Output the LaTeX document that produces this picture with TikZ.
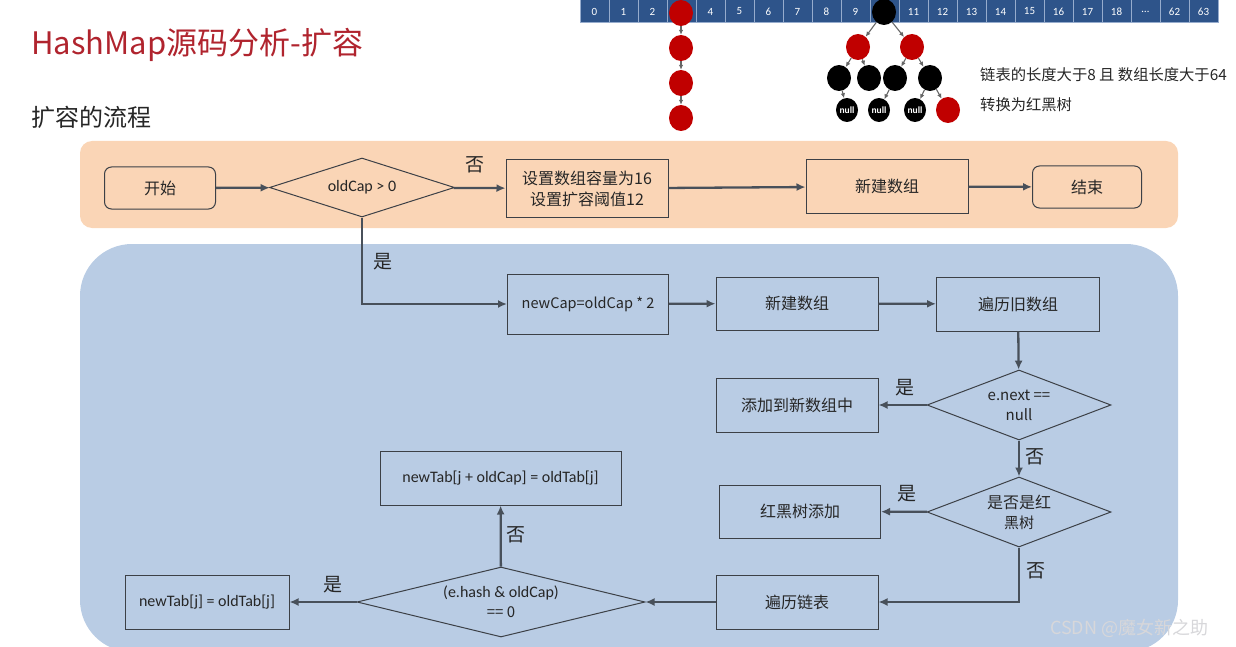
\documentclass[tikz,border=0pt]{standalone}
\usepackage{fontspec}
\setmainfont{Noto Sans CJK SC}
\newfontfamily\lat{Carlito}
\usepackage{tikz}
\usetikzlibrary{shapes.geometric}
\usetikzlibrary{arrows.meta}
\definecolor{bandO}{RGB}{250,213,182}
\definecolor{bandB}{RGB}{185,204,228}
\definecolor{cellB}{RGB}{46,84,138}
\definecolor{cellL}{RGB}{150,172,205}
\definecolor{nodeR}{RGB}{192,0,0}
\definecolor{titleR}{RGB}{176,36,46}
\definecolor{lineG}{RGB}{72,80,90}
\definecolor{edgeG}{RGB}{60,64,70}
\definecolor{txtG}{RGB}{38,38,38}
\definecolor{markG}{RGB}{215,215,218}
\tikzset{
	box/.style={draw=edgeG, line width=1pt, minimum width=162pt, minimum height=54pt, inner sep=2pt, align=center, text=txtG, font=\fontsize{16}{21}\selectfont},
	rbox/.style={box, rounded corners=7pt},
	dia/.style={diamond, draw=edgeG, line width=1pt, inner sep=0pt, align=center, text=txtG, font=\fontsize{15}{20}\selectfont},
	arr/.style={draw=lineG, line width=2.3pt, -{Latex[length=9pt,width=8pt]}},
	lbl/.style={inner sep=0pt, text=txtG, font=\fontsize{19}{19}\selectfont},
	cell/.style={draw=cellL, line width=1pt, fill=cellB, text=white, minimum width=29pt, minimum height=23pt, inner sep=0pt, font=\lat\fontsize{11}{11}\selectfont},
	rn/.style={ellipse, fill=nodeR, minimum width=24pt, minimum height=26pt, inner sep=0pt},
	bn/.style={ellipse, fill=black, minimum width=24pt, minimum height=26pt, inner sep=0pt},
	nn/.style={bn, minimum width=22pt, minimum height=24pt, text=white, font=\lat\bfseries\fontsize{9.5}{9.5}\selectfont},
	tarr/.style={draw=black!60, line width=1.1pt, -{Latex[length=5pt,width=4.5pt]}},
}
\begin{document}
\begin{tikzpicture}[x=1pt,y=-1pt]
\useasboundingbox (0,0) rectangle (1236,647);
% bands
\fill[bandO, rounded corners=12pt] (80,141) rectangle (1178,228);
\fill[bandB, rounded corners=52pt] (80,244) rectangle (1178,652);
% titles
\node[anchor=west, inner sep=0pt, text=titleR, font=\fontsize{31}{32}\selectfont] (title) at (31,45) {HashMap源码分析-扩容};
\node[anchor=west, inner sep=0pt, text=txtG, font=\fontsize{24}{24}\selectfont] (sub) at (31,117) {扩容的流程};
% array
\foreach \t [count=\i from 0] in {0,1,2,{},4,5,6,7,8,9,{},11,12,13,14,15,16,17,18,\ldots,62,63}
	\node[cell] (a\i) at ({594.5+29*\i},11.5) {\t};
% list on slot 3
\node[rn] (c0) at (681,13) {};
\node[rn] (c1) at (681,48) {};
\node[rn] (c2) at (681,83) {};
\node[rn] (c3) at (681,118) {};
\draw[tarr] (c0) -- (c1);
\draw[tarr] (c1) -- (c2);
\draw[tarr] (c2) -- (c3);
% tree on slot 10
\node[bn] (root) at (884,12) {};
\node[rn] (r1) at (858,47) {};
\node[rn] (r2) at (912,47) {};
\node[bn] (b1) at (839,78) {};
\node[bn] (b2) at (869,78) {};
\node[bn] (b3) at (895,78) {};
\node[bn] (b4) at (930,78) {};
\node[nn] (n1) at (847,110) {null};
\node[nn] (n2) at (879,110) {null};
\node[nn] (n3) at (915,110) {null};
\node[rn] (r3) at (948,110) {};
\draw[tarr] (root) -- (r1);
\draw[tarr] (root) -- (r2);
\draw[tarr] (r1) -- (b1);
\draw[tarr] (r1) -- (b2);
\draw[tarr] (r2) -- (b3);
\draw[tarr] (r2) -- (b4);
\draw[tarr] (b1) -- (n1);
\draw[tarr] (b3) -- (n2);
\draw[tarr] (b4) -- (n3);
\draw[tarr] (b4) -- (r3);
\node[anchor=west, inner sep=0pt, text=txtG, font=\fontsize{15.3}{15}\selectfont] (note1) at (980,75) {链表的长度大于8 且 数组长度大于64};
\node[anchor=west, inner sep=0pt, text=txtG, font=\fontsize{15.3}{15}\selectfont] (note2) at (980,105) {转换为红黑树};
% top row
\node[rbox, minimum width=111pt, minimum height=42pt] (start) at (160,188) {开始};
\node[dia, aspect=3.1, minimum width=185pt, minimum height=59pt] (cond) at (362,187.5) {\lat\fontsize{16}{16}\selectfont oldCap > 0};
\node[box, minimum height=57pt] (init) at (587,188.5) {设置数组容量为16\\设置扩容阈值12};
\node[box, minimum height=53pt] (newT) at (887,186.5) {新建数组};
\node[rbox, minimum width=109pt, minimum height=42pt] (stop) at (1087,187) {结束};
% blue part
\node[box, minimum width=161pt, minimum height=60pt, font=\fontsize{14.5}{18}\selectfont] (dbl) at (588,304) {newCap=oldCap * 2};
\node[box, minimum height=53pt] (newB) at (797,303.5) {新建数组};
\node[box, minimum width=163pt] (trav) at (1018,304) {遍历旧数组};
\node[dia, aspect=2.6, minimum width=184pt, minimum height=70pt] (nxt) at (1019,405) {e.next ==\\null};
\node[box] (addN) at (797,405) {添加到新数组中};
\node[dia, aspect=2.6, minimum width=184pt, minimum height=70pt] (isT) at (1019,512) {\fontsize{16}{20}\selectfont 是否是红\\黑树};
\node[box, minimum width=161pt, minimum height=53pt] (rbt) at (800,511.5) {红黑树添加};
\node[box] (lst) at (797,602) {遍历链表};
\node[dia, aspect=4.1, minimum width=288pt, minimum height=70pt] (hsh) at (501,602) {\lat\fontsize{16}{19}\selectfont (e.hash \& oldCap)\\== 0};
\node[box, minimum width=164pt] (lo) at (207,602) {\lat newTab[j] = oldTab[j]};
\node[box, minimum width=241pt] (hi) at (500.5,478) {\lat newTab[j + oldCap] = oldTab[j]};
% connectors
\draw[arr] (start) -- (cond);
\draw[arr] (cond) -- (init);
\draw[arr] (init) -- (newT);
\draw[arr] (newT) -- (stop);
\draw[arr] (cond.south) |- (dbl.west);
\draw[arr] (dbl) -- (newB);
\draw[arr] (newB) -- (trav);
\draw[arr] (trav) -- (nxt);
\draw[arr] (nxt) -- (addN);
\draw[arr] (nxt) -- (isT);
\draw[arr] (isT) -- (rbt);
\draw[arr] (isT.south) |- (lst.east);
\draw[arr] (lst) -- (hsh);
\draw[arr] (hsh) -- (lo);
\draw[arr] (hsh) -- (hi);
% labels
\node[lbl] (no1) at (475,165) {否};
\node[lbl] (yes1) at (383,262) {是};
\node[lbl] (yes2) at (905,388) {是};
\node[lbl] (no2) at (1035,457) {否};
\node[lbl] (yes3) at (907,494) {是};
\node[lbl] (no3) at (1036,571) {否};
\node[lbl] (yes4) at (333,585) {是};
\node[lbl] (no4) at (516,535) {否};
\node[anchor=west, inner sep=0pt, text=markG, font=\fontsize{18}{18}\selectfont] (mark) at (1050,628) {CSDN @魔女新之助};
\end{tikzpicture}
\end{document}
